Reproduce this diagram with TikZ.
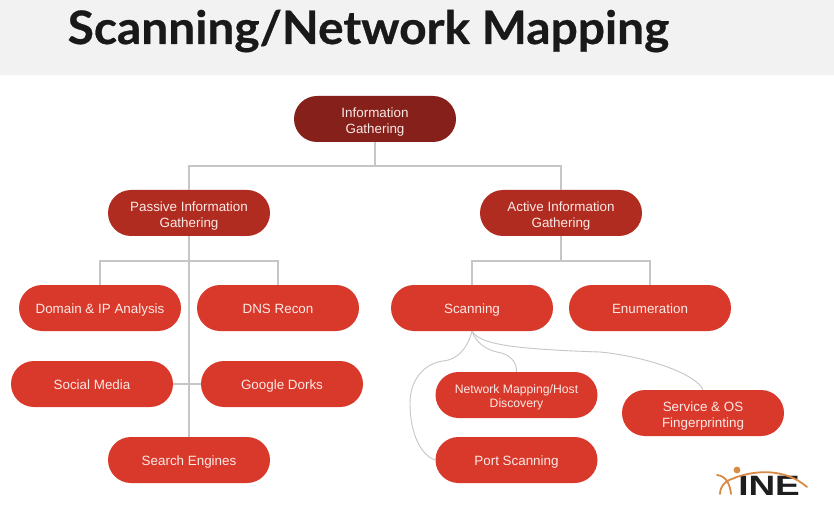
\documentclass[tikz,border=0pt]{standalone}
\usepackage{fontspec}
\setmainfont{Liberation Sans}
\newfontfamily\titlefont[BoldFeatures={FakeBold=0.6}]{Lato}
\definecolor{bandgrey}{HTML}{F2F2F2}
\definecolor{linegrey}{HTML}{C6C6C6}
\definecolor{rootred}{HTML}{85201A}
\definecolor{midred}{HTML}{B02C20}
\definecolor{leafred}{HTML}{D9392B}
\definecolor{labeltext}{HTML}{FBE9E6}
\definecolor{logoorange}{HTML}{D98A45}
\definecolor{logoblack}{HTML}{1E1E1E}
\tikzset{
  pill/.style={minimum width=162pt,minimum height=46pt,rounded corners=23pt,inner sep=0pt,
    text=labeltext,align=center,font=\fontsize{13.4}{16}\selectfont,
    execute at begin node={\rule[-3pt]{0pt}{16.5pt}}},
  twoline/.style={execute at begin node={\rule{0pt}{32pt}}},
  twolinesmall/.style={execute at begin node={\rule{0pt}{28pt}}},
  rootpill/.style={pill,fill=rootred},
  midpill/.style={pill,fill=midred},
  leafpill/.style={pill,fill=leafred},
  tree/.style={draw=linegrey,line width=1.4pt},
  curve/.style={draw=linegrey,line width=0.9pt},
  swoosh/.style={draw=logoorange,line width=1.8pt,line cap=round}
}
\begin{document}
\begin{tikzpicture}[x=1pt,y=-1pt]
\useasboundingbox (0,0) rectangle (834,510);
\fill[white] (0,0) rectangle (834,510);
\fill[bandgrey] (0,0) rectangle (834,75);
\node[anchor=base west,inner sep=0pt,font=\titlefont\bfseries\fontsize{46}{50}\selectfont,text=black!90,xscale=1.04] (title) at (67.5,44) {Scanning/Network Mapping};

\node[rootpill,twoline] (ig) at (375,119) {Information\\Gathering};
\node[midpill,twoline] (pas) at (189,213) {Passive Information\\Gathering};
\node[midpill,twoline] (act) at (561,213) {Active Information\\Gathering};
\node[leafpill] (dom) at (100,308) {Domain \& IP Analysis};
\node[leafpill] (dns) at (278,308) {DNS Recon};
\node[leafpill] (soc) at (92,384) {Social Media};
\node[leafpill] (goo) at (282,384) {Google Dorks};
\node[leafpill] (sea) at (189,460) {Search Engines};
\node[leafpill] (sca) at (472,308) {Scanning};
\node[leafpill] (enu) at (650,308) {Enumeration};
\node[leafpill,twolinesmall,font=\fontsize{12.2}{14}\selectfont] (net) at (516.5,395) {Network Mapping/Host\\Discovery};
\node[leafpill] (por) at (516.5,460) {Port Scanning};
\node[leafpill,twoline] (ser) at (703,413) {Service \& OS\\Fingerprinting};

\coordinate (b1) at (375,166);
\coordinate (b2) at (189,261);
\coordinate (b3) at (561,261);
\draw[tree] (ig.south) -- (b1);
\draw[tree] (pas.north) |- (b1) -| (act.north);
\draw[tree] (pas.south) -- (sea.north);
\draw[tree] (dom.north) |- (b2) -| (dns.north);
\draw[tree] (act.south) -- (b3);
\draw[tree] (sca.north) |- (b3) -| (enu.north);
\draw[tree] (soc.east) -- (goo.west);
\draw[curve] (sca.south) .. controls (476,343) and (487,350) .. (497,352) .. controls (510,354) and (517,362) .. (net.north);
\draw[curve] (sca.south) .. controls (467,350) and (456,360) .. (443,361) .. controls (422,364) and (410,382) .. (410,403) .. controls (410,432) and (420,455) .. (por.west);
\draw[curve] (sca.south) .. controls (480,344) and (510,349) .. (600,352) .. controls (650,357) and (697,375) .. (ser.north);

% INE logo
\node[inner sep=0pt,font=\bfseries\fontsize{28}{28}\selectfont,text=logoblack,anchor=base west,xscale=1.32] (ine) at (738,495) {INE};
\fill[logoorange] (737,470) circle (3.4pt);
\draw[swoosh] (734,478) .. controls (755,470) and (785,468) .. (807,487);
\draw[swoosh] (717,475) .. controls (726,476) and (730,484) .. (731,494);
\draw[swoosh] (735,478) .. controls (726,480) and (720,486) .. (720,494);
\end{tikzpicture}
\end{document}
